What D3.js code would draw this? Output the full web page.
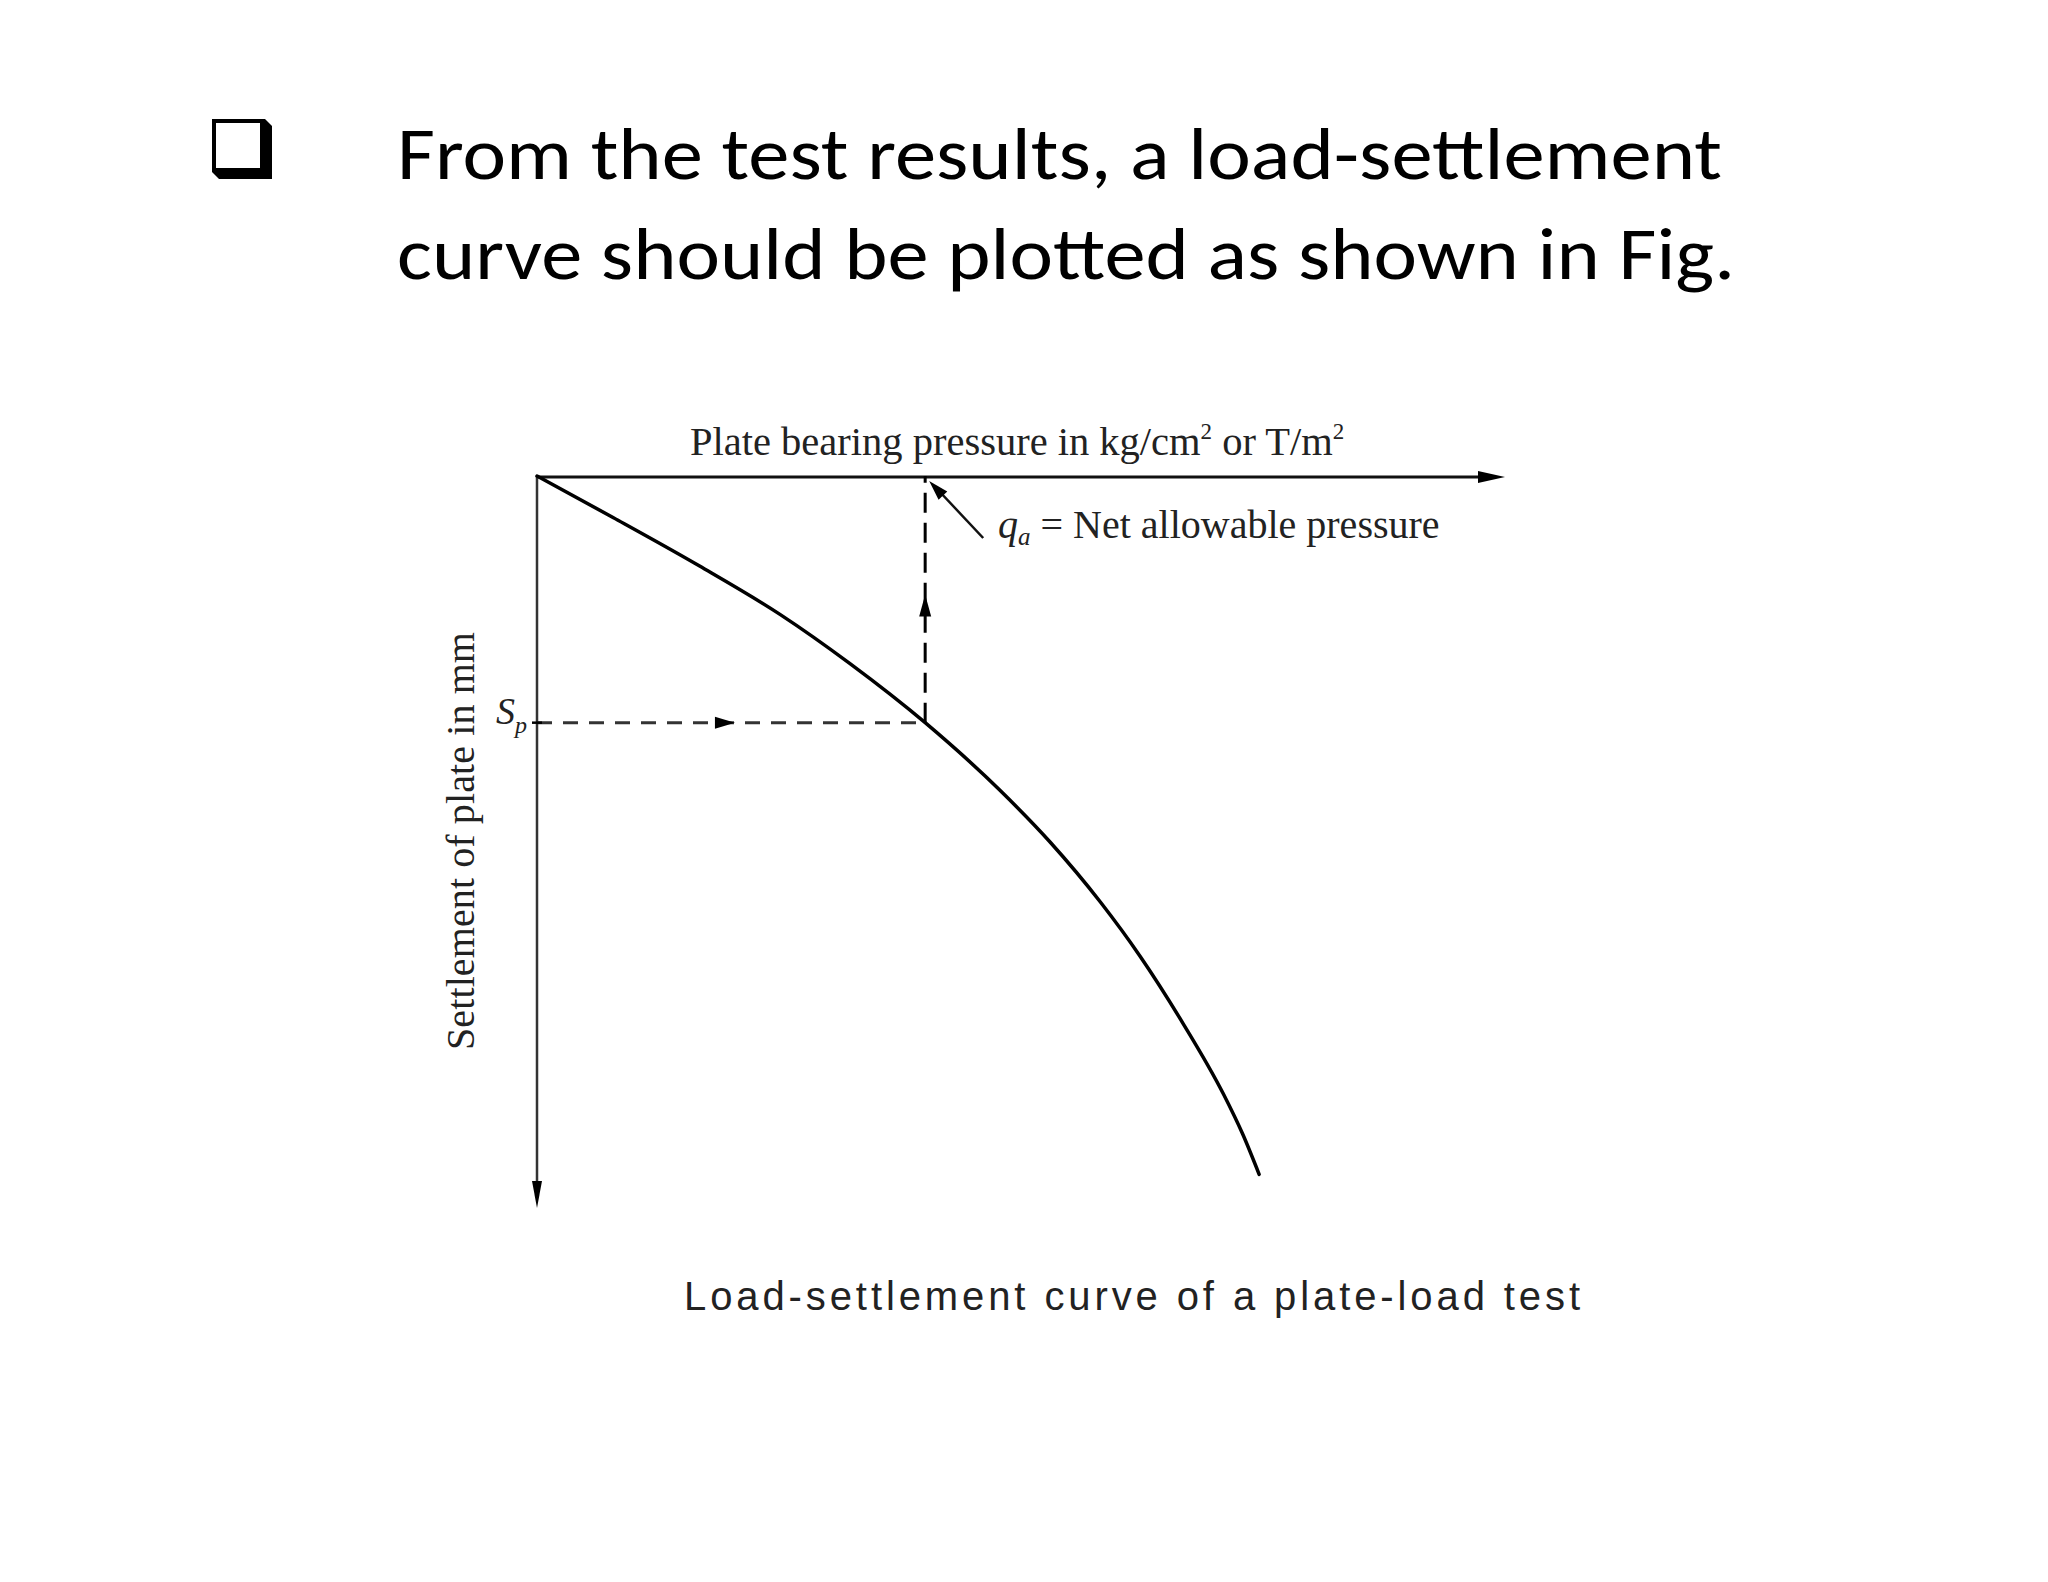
<!DOCTYPE html>
<html>
<head>
<meta charset="utf-8">
<script src="https://cdn.jsdelivr.net/npm/d3@7"></script>
<style>
  body { margin: 0; background: #fff; }
</style>
</head>
<body>
<div id="slide"></div>
<script>
// load-settlement curve (pressure and settlement in % of axis length)
const pressure   = [0, 7.9, 16.8, 25.1, 32.3, 40.1, 47.8, 53.0, 58.2, 62.3, 66.7, 70.9, 72.9, 74.6];
const settlement = [0, 5.7, 12.3, 18.9, 25.6, 33.7, 42.9, 50.0, 58.2, 65.6, 74.7, 84.4, 89.9, 95.4];
const qa = 40.1;   // net allowable pressure
const sp = 33.7;   // settlement at qa

const titleLines = ["From the test results, a load-settlement", "curve should be plotted as shown in Fig."];
const xLabel = "Plate bearing pressure in kg/cm";
const yLabel = "Settlement of plate in mm";
const caption = "Load-settlement curve of a plate-load test";

const W = 2048, H = 1582;

const svg = d3.select("#slide")
    .append("svg")
        .attr("width", W)
        .attr("height", H)
        .attr("viewBox", `0 0 ${W} ${H}`);

svg.append("rect").attr("width", W).attr("height", H).attr("fill", "#fff");

// bullet box (shadowed square)
svg.append("path")
    .attr("d", "M212,119 L265,119 L272,126 L272,179 L219,179 L212,172 Z")
    .attr("fill", "#000");
svg.append("rect")
    .attr("x", 216).attr("y", 123)
    .attr("width", 44).attr("height", 45)
    .attr("fill", "#fff");

svg.selectAll(".title-line")
    .data(titleLines)
    .join("text")
        .attr("class", "title-line")
        .attr("x", 397)
        .attr("y", (d, i) => 179 + i * 100)
        .attr("textLength", (d, i) => i === 0 ? 1325 : 1338)
        .attr("lengthAdjust", "spacingAndGlyphs")
        .style("font-family", "Carlito, Lato, 'Open Sans', sans-serif")
        .style("font-size", "73px")
        .style("fill", "#000")
        .text(d => d);

// chart
const x = d3.scaleLinear().domain([0, 100]).range([537, 1505]);
const y = d3.scaleLinear().domain([0, 100]).range([476, 1208]);

const g = svg.append("g");

const arrowHead = (px, py, angle, len, hw, fill) => {
    const ca = Math.cos(angle), sa = Math.sin(angle);
    const bx = px - len * ca, by = py - len * sa;
    const pts = [
        [px, py],
        [bx - hw * sa, by + hw * ca],
        [bx + hw * sa, by - hw * ca]
    ];
    g.append("polygon")
        .attr("points", pts.map(p => p.join(",")).join(" "))
        .attr("fill", fill || "#000");
};

// pressure axis (top)
g.append("line")
    .attr("x1", x(0)).attr("y1", y(0) + 1)
    .attr("x2", x(100) - 10).attr("y2", y(0) + 1)
    .attr("stroke", "#111")
    .attr("stroke-width", 3);
arrowHead(x(100), y(0) + 1, 0, 27, 6);

// settlement axis (left)
g.append("line")
    .attr("x1", x(0)).attr("y1", y(0))
    .attr("x2", x(0)).attr("y2", y(100) - 10)
    .attr("stroke", "#333")
    .attr("stroke-width", 2.5);
arrowHead(x(0), y(100), Math.PI / 2, 27, 5);

// dashed guides
g.append("line")
    .attr("x1", x(0)).attr("y1", y(sp))
    .attr("x2", x(qa)).attr("y2", y(sp))
    .attr("stroke", "#333")
    .attr("stroke-width", 3)
    .attr("stroke-dasharray", "15,11");
arrowHead(x(0) + 0.51 * (x(qa) - x(0)), y(sp), 0, 20, 6);

g.append("line")
    .attr("x1", x(qa)).attr("y1", y(sp))
    .attr("x2", x(qa)).attr("y2", y(0))
    .attr("stroke", "#000")
    .attr("stroke-width", 3)
    .attr("stroke-dasharray", "20,10");
arrowHead(x(qa), y(sp) - 0.52 * (y(sp) - y(0)), -Math.PI / 2, 22, 6);

// Sp tick
g.append("line")
    .attr("x1", x(0) - 5).attr("y1", y(sp))
    .attr("x2", x(0) + 5).attr("y2", y(sp))
    .attr("stroke", "#000")
    .attr("stroke-width", 2.5);

// the curve
const pts = pressure.map((p, i) => [p, settlement[i]]);
g.append("path")
    .datum(pts)
    .attr("fill", "none")
    .attr("stroke", "#000")
    .attr("stroke-width", 3.5)
    .attr("stroke-linecap", "round")
    .attr("d", d3.line()
        .x(d => x(d[0]))
        .y(d => y(d[1]))
        .curve(d3.curveMonotoneX));

// qa leader
const tipX = x(qa) + 4, tipY = y(0) + 5;
const tailX = x(qa) + 58, tailY = y(0) + 62;
g.append("line")
    .attr("x1", tailX).attr("y1", tailY)
    .attr("x2", tipX + 8).attr("y2", tipY + 8)
    .attr("stroke", "#111")
    .attr("stroke-width", 2.5);
arrowHead(tipX, tipY, Math.atan2(tipY - tailY, tipX - tailX), 20, 6);

// texts
const serif = "'Liberation Serif', 'DejaVu Serif', serif";

const xl = g.append("text")
    .attr("x", 690)
    .attr("y", 455)
    .style("font-family", serif)
    .style("font-size", "40.5px")
    .style("fill", "#222");
xl.append("tspan").text(xLabel);
xl.append("tspan").attr("dy", -16).style("font-size", "23px").text("2");
xl.append("tspan").attr("dy", 16).text(" or T/m");
xl.append("tspan").attr("dy", -16).style("font-size", "23px").text("2");

const ql = g.append("text")
    .attr("x", 998)
    .attr("y", 538)
    .style("font-family", serif)
    .style("font-size", "40px")
    .style("fill", "#222");
ql.append("tspan").style("font-style", "italic").text("q");
ql.append("tspan").attr("dy", 7).style("font-style", "italic").style("font-size", "25px").text("a");
ql.append("tspan").attr("dy", -7).text(" = Net allowable pressure");

const sl = g.append("text")
    .attr("x", 496)
    .attr("y", y(sp) + 1)
    .style("font-family", serif)
    .style("font-size", "38px")
    .style("fill", "#222");
sl.append("tspan").style("font-style", "italic").text("S");
sl.append("tspan").attr("dy", 9).style("font-style", "italic").style("font-size", "24px").text("p");

g.append("text")
    .attr("transform", "translate(474,1050) rotate(-90)")
    .attr("textLength", 418)
    .style("font-family", serif)
    .style("font-size", "40px")
    .style("fill", "#222")
    .text(yLabel);

g.append("text")
    .attr("x", 684)
    .attr("y", 1310)
    .attr("textLength", 896)
    .style("font-family", "'Liberation Sans', Arial, sans-serif")
    .style("font-size", "40px")
    .style("fill", "#222")
    .text(caption);
</script>
</body>
</html>
